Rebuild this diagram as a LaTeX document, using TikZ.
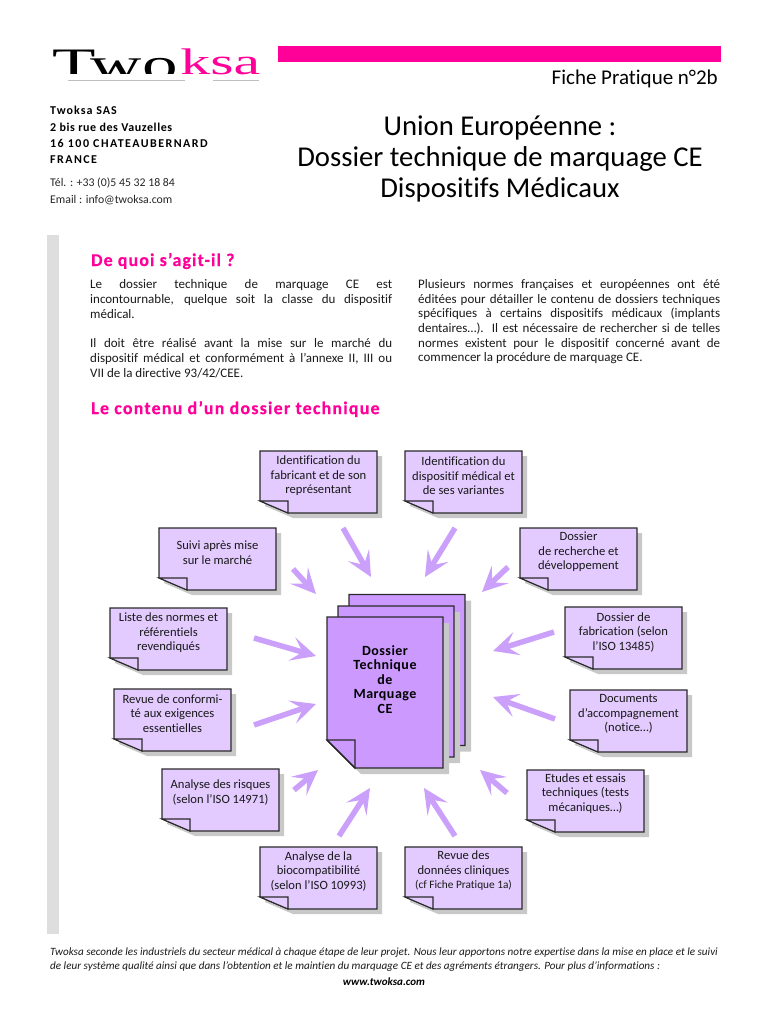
\documentclass[tikz,border=0pt]{standalone}
\usepackage{fontspec}
\setmainfont[Ligatures={NoCommon}]{Carlito}
\newfontfamily\logofont{Liberation Serif}
\usetikzlibrary{arrows.meta}
\definecolor{pinkc}{HTML}{FF0099}
\definecolor{notec}{HTML}{E3CAFF}
\definecolor{mainc}{HTML}{CC99FF}
\definecolor{arrowc}{HTML}{CBA0FA}
\definecolor{shadowc}{HTML}{C8C8C8}
\definecolor{barc}{HTML}{DEDEDE}
\definecolor{edgec}{HTML}{2A2A2A}
\tikzset{
  notebody/.style={draw=edgec,line width=1.1pt,fill=notec,line join=miter},
  mainbody/.style={draw=edgec,line width=1.1pt,fill=mainc,line join=miter},
  notetext/.style={inner sep=0pt,align=center,font=\fontsize{12.6}{14.5}\selectfont,text=black!90},
  maintext/.style={inner sep=0pt,align=center,font=\fontsize{14}{14.4}\selectfont\bfseries\addfontfeature{LetterSpace=3.5},text=black},
  bigarrow/.style={draw=arrowc,line width=5.5pt,-{Stealth[length=25pt,width=24pt,inset=11pt]}},
  para/.style={inner sep=0pt,anchor=north west,text width=302pt,align=justify,font=\fontsize{13}{15}\selectfont,text=black!90},
  parb/.style={para,font=\fontsize{13}{14.6}\selectfont},
  addr/.style={inner sep=0pt,anchor=west,font=\fontsize{12}{13}\selectfont\bfseries\addfontfeature{LetterSpace=#1},text=black},
  tel/.style={inner sep=0pt,anchor=west,font=\fontsize{11.8}{13}\selectfont,text=black!85},
  heading/.style={inner sep=0pt,anchor=west,font=\fontsize{18}{20}\selectfont\bfseries\addfontfeature{LetterSpace=#1,FakeBold=0.4},text=pinkc},
  titlet/.style={inner sep=0pt,font=\fontsize{28.7}{31}\selectfont,text=black},
  foot/.style={inner sep=0pt,anchor=west,font=\fontsize{11.12}{13}\selectfont\itshape,text=black!90},
}
\newcommand\notebox[5]{% name, x0, y0, text y offset, text
  \begin{scope}[shift={(#2,#3)}]
    \fill[shadowc] (5,5) -- (122,5) -- (122,67) -- (33,67) -- (5,55) -- cycle;
    \draw[notebody] (0,0) -- (117,0) -- (117,62) -- (28,62) -- (0,50) -- cycle;
    \draw[notebody,fill=notec] (0,50) -- (28,50) -- (28,62) -- cycle;
    \node[notetext,anchor=center] (#1) at (58.5,#4) {#5};
  \end{scope}}
\newcommand\sheet[3]{% x0,y0,content
  \begin{scope}[shift={(#1,#2)}]
    \fill[shadowc] (6,6) -- (122,6) -- (122,157) -- (34,157) -- (6,129) -- cycle;
    \draw[mainbody] (0,0) -- (116,0) -- (116,151) -- (28,151) -- (0,123) -- cycle;
    #3
  \end{scope}}
\begin{document}
\begin{tikzpicture}[x=1pt,y=-1pt]
\useasboundingbox (0,0) rectangle (768,1024);
% logo
\begin{scope}
  \clip (40,40) rectangle (178,73.5);
  \node[inner sep=0pt,anchor=base west,xscale=1.58] (logoa) at (52,80) {\logofont\fontsize{45}{45}\selectfont Two};
\end{scope}
\node[inner sep=0pt,anchor=base west,xscale=1.62,text=pinkc] (logob) at (180,75) {\logofont\fontsize{37}{37}\selectfont ksa};
\draw[black!25,line width=0.6pt] (68,80.5) -- (185,80.5) (213,80.5) -- (259,80.5);
% top bar
\fill[pinkc] (278,46) rectangle (721,62);
\node[inner sep=0pt,anchor=east,font=\fontsize{21}{22}\selectfont] (fiche) at (718,78.5) {Fiche Pratique n°2b};
% address
\node[addr=8.5] (a1) at (50,110) {Twoksa SAS};
\node[addr=5] (a2) at (50,127) {2 bis rue des Vauzelles};
\node[addr=12] (a3) at (50,143) {16 100 CHATEAUBERNARD};
\node[addr=12] (a4) at (50,160) {FRANCE};
\node[tel] (a5) at (50,183) {Tél. : +33 (0)5 45 32 18 84};
\node[tel] (a6) at (50,200) {Email : info@twoksa.com};
% title
\node[titlet] (t1) at (500,128) {Union Européenne :};
\node[titlet] (t2) at (500,159) {Dossier technique de marquage CE};
\node[titlet] (t3) at (500,190) {Dispositifs Médicaux};
% grey bar
\fill[barc] (47,235) rectangle (59,934);
% text
\node[heading=6] (h1) at (91,261) {De quoi s’agit-il ?};
\node[para] (p1) at (90,279.5) {Le dossier technique de marquage CE est\linebreak incontournable, quelque soit la classe du dispositif\linebreak médical.};
\node[para] (p2) at (90,338.5) {Il doit être réalisé avant la mise sur le marché du\linebreak dispositif médical et conformément à l’annexe II, III ou\linebreak VII de la directive 93/42/CEE.};
\node[parb] (p3) at (418,279.5) {Plusieurs normes françaises et européennes ont été\linebreak éditées pour détailler le contenu de dossiers techniques\linebreak spécifiques à certains dispositifs médicaux (implants\linebreak dentaires…). Il est nécessaire de rechercher si de telles\linebreak normes existent pour le dispositif concerné avant de\linebreak commencer la procédure de marquage CE.};
\node[heading=6.5] (h2) at (91,409) {Le contenu d’un dossier technique};
% notes
\notebox{n1}{260}{451}{25}{Identification du\\fabricant et de son\\représentant}
\notebox{n2}{405}{451}{25}{Identification du\\dispositif médical et\\de ses variantes}
\notebox{n3}{159}{528}{24.5}{Suivi après mise\\sur le marché}
\notebox{n4}{520}{528}{24}{Dossier\\de recherche et\\développement}
\notebox{n5}{110}{608}{25}{Liste des normes et\\référentiels\\revendiqués}
\notebox{n6}{565}{607}{25}{Dossier de\\fabrication (selon\\l’ISO 13485)}
\notebox{n7}{114}{689}{24.5}{Revue de conformi-\\té aux exigences\\essentielles}
\notebox{n8}{570}{690}{24}{Documents\\d’accompagnement\\(notice…)}
\notebox{n9}{162}{769}{23.5}{Analyse des risques\\(selon l’ISO 14971)}
\notebox{n10}{527}{770}{23.5}{Etudes et essais\\techniques (tests\\mécaniques…)}
\notebox{n11}{260}{847}{24}{Analyse de la\\biocompatibilité\\(selon l’ISO 10993)}
\notebox{n12}{405}{847}{24}{Revue des\\données cliniques\\{\fontsize{11.3}{13}\selectfont (cf Fiche Pratique 1a)}}
% central stack
\sheet{349}{594.5}{}
\sheet{338}{606}{}
\sheet{327}{617}{\draw[mainbody] (0,123) -- (28,123) -- (28,151) -- cycle;
  \fill[white] (-1,124) -- (-1,152) -- (27.5,152) -- cycle;
  \draw[draw=edgec,line width=1.1pt] (0,123) -- (28,151);
  \node[maintext] (doc) at (58,62.5) {Dossier\\Technique\\de\\Marquage\\CE};}
% arrows
\coordinate (a1s) at (343,528); \coordinate (a1e) at (371,577);
\coordinate (a2s) at (455,528); \coordinate (a2e) at (425,577);
\coordinate (a3s) at (293,569); \coordinate (a3e) at (316,594);
\coordinate (a4s) at (508,567); \coordinate (a4e) at (482,592);
\coordinate (a5s) at (254,638); \coordinate (a5e) at (316,656);
\coordinate (a6s) at (554,632); \coordinate (a6e) at (493,651);
\coordinate (a7s) at (254,725); \coordinate (a7e) at (316,704);
\coordinate (a8s) at (555,719); \coordinate (a8e) at (493,697);
\coordinate (a9s) at (294,790); \coordinate (a9e) at (318,770);
\coordinate (a10s) at (507,793); \coordinate (a10e) at (480,770);
\coordinate (a11s) at (339,836); \coordinate (a11e) at (370,788);
\coordinate (a12s) at (455,836); \coordinate (a12e) at (424,788);
\foreach \i in {1,...,12} {\draw[bigarrow] (a\i s) -- (a\i e);}
% footer
\node[foot] (f1) at (50,953) {Twoksa seconde les industriels du secteur médical à chaque étape de leur projet. Nous leur apportons notre expertise dans la mise en place et le suivi};
\node[foot] (f2) at (50,967) {de leur système qualité ainsi que dans l’obtention et le maintien du marquage CE et des agréments étrangers. Pour plus d’informations :};
\node[inner sep=0pt,font=\fontsize{11}{13}\selectfont\bfseries\itshape] (f3) at (384,982) {www.twoksa.com};
\end{tikzpicture}
\end{document}
